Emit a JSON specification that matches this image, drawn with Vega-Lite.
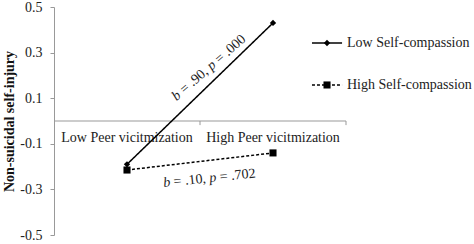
{
  "$schema": "https://vega.github.io/schema/vega-lite/v6.json",
  "width": 292,
  "height": 228,
  "autosize": {"type": "none"},
  "padding": {"left": 54, "top": 7, "right": 128, "bottom": 9},
  "background": "white",
  "config": {"font": "Liberation Serif", "view": {"stroke": null}},
  "datasets": {
    "lines": [
      {"group": "Low Self-compassion", "pv": 0.5, "nssi": -0.19},
      {"group": "Low Self-compassion", "pv": 1.5, "nssi": 0.43},
      {"group": "High Self-compassion", "pv": 0.5, "nssi": -0.215},
      {"group": "High Self-compassion", "pv": 1.5, "nssi": -0.14}
    ],
    "cats": [
      {"label": "Low Peer vicitmization", "pv": 0.5},
      {"label": "High Peer vicitmization", "pv": 1.5}
    ],
    "axisline": [{"from": 0, "to": 2}],
    "ticks": [{"pv": 1}, {"pv": 2}],
    "legend": [
      {"group": "Low Self-compassion", "lx0": 1.767, "lx1": 1.973, "lxm": 1.87, "ltx": 2.0, "ly": 0.342},
      {"group": "High Self-compassion", "lx0": 1.767, "lx1": 1.973, "lxm": 1.87, "ltx": 2.0, "ly": 0.158}
    ],
    "ann": [
      {"id": "a1", "part": "b1", "text": "b", "ax": 1.075, "ay": 0.241},
      {"id": "a1", "part": "r1", "text": "= .90,", "ax": 1.075, "ay": 0.241},
      {"id": "a1", "part": "p1", "text": "p", "ax": 1.075, "ay": 0.241},
      {"id": "a1", "part": "r2", "text": "= .000", "ax": 1.075, "ay": 0.241},
      {"id": "a2", "part": "b1", "text": "b", "ax": 1.082, "ay": -0.25},
      {"id": "a2", "part": "r1", "text": "= .10,", "ax": 1.082, "ay": -0.25},
      {"id": "a2", "part": "p1", "text": "p", "ax": 1.082, "ay": -0.25},
      {"id": "a2", "part": "r2", "text": "= .702", "ax": 1.082, "ay": -0.25}
    ]
  },
  "layer": [
    {
      "data": {"name": "axisline"},
      "mark": {"type": "rule", "color": "#999", "strokeWidth": 1},
      "encoding": {
        "x": {"field": "from", "type": "quantitative", "scale": {"domain": [0, 2], "nice": false, "zero": false}, "axis": null},
        "x2": {"field": "to"},
        "y": {"datum": 0, "type": "quantitative", "scale": {"domain": [-0.5, 0.5], "nice": false, "zero": false},
          "axis": {
            "values": [-0.5, -0.3, -0.1, 0.1, 0.3, 0.5],
            "labelExpr": "replace(format(datum.value, '.1f'), '−', '-')",
            "title": "Non-suicidal self-injury",
            "titleFont": "Liberation Serif",
            "titleFontSize": 14,
            "titleFontWeight": "bold",
            "titleColor": "#111",
            "titlePadding": 3,
            "labelFont": "Liberation Serif",
            "labelFontSize": 14,
            "labelColor": "#222",
            "labelPadding": 8,
            "tickSize": 4,
            "tickColor": "#999",
            "domainColor": "#999",
            "grid": false
          }
        }
      }
    },
    {
      "data": {"name": "ticks"},
      "mark": {"type": "rule", "color": "#999", "strokeWidth": 1},
      "encoding": {
        "x": {"field": "pv", "type": "quantitative"},
        "y": {"datum": 0, "type": "quantitative"},
        "y2": {"datum": -0.018}
      }
    },
    {
      "data": {"name": "cats"},
      "mark": {"type": "text", "fontSize": 14, "color": "#222", "align": "center", "baseline": "middle"},
      "encoding": {
        "x": {"field": "pv", "type": "quantitative"},
        "y": {"datum": -0.075, "type": "quantitative"},
        "text": {"field": "label"}
      }
    },
    {
      "data": {"name": "lines"},
      "mark": {"type": "line", "color": "black", "strokeWidth": 1.5},
      "encoding": {
        "x": {"field": "pv", "type": "quantitative"},
        "y": {"field": "nssi", "type": "quantitative"},
        "detail": {"field": "group"},
        "strokeDash": {"field": "group", "type": "nominal", "scale": {"domain": ["Low Self-compassion", "High Self-compassion"], "range": [[1, 0], [3, 2]]}, "legend": null}
      }
    },
    {
      "data": {"name": "lines"},
      "mark": {"type": "point", "filled": true, "color": "black", "opacity": 1},
      "encoding": {
        "x": {"field": "pv", "type": "quantitative"},
        "y": {"field": "nssi", "type": "quantitative"},
        "shape": {"field": "group", "type": "nominal", "scale": {"domain": ["Low Self-compassion", "High Self-compassion"], "range": ["diamond", "square"]}, "legend": null},
        "size": {"field": "group", "type": "nominal", "scale": {"domain": ["Low Self-compassion", "High Self-compassion"], "range": [40, 50]}, "legend": null}
      }
    },
    {
      "data": {"name": "legend"},
      "mark": {"type": "rule", "color": "black", "strokeWidth": 1.5},
      "encoding": {
        "x": {"field": "lx0", "type": "quantitative"},
        "x2": {"field": "lx1"},
        "y": {"field": "ly", "type": "quantitative"},
        "strokeDash": {"field": "group", "type": "nominal", "legend": null}
      }
    },
    {
      "data": {"name": "legend"},
      "mark": {"type": "point", "filled": true, "color": "black", "opacity": 1},
      "encoding": {
        "x": {"field": "lxm", "type": "quantitative"},
        "y": {"field": "ly", "type": "quantitative"},
        "shape": {"field": "group", "type": "nominal", "legend": null},
        "size": {"field": "group", "type": "nominal", "legend": null}
      }
    },
    {
      "data": {"name": "legend"},
      "mark": {"type": "text", "fontSize": 14, "color": "#222", "align": "left", "baseline": "middle", "dx": 1},
      "encoding": {
        "x": {"field": "ltx", "type": "quantitative"},
        "y": {"field": "ly", "type": "quantitative"},
        "text": {"field": "group"}
      }
    },
    {
      "data": {"name": "ann"},
      "transform": [{"filter": "datum.id === 'a1' && datum.part === 'b1'"}],
      "mark": {"type": "text", "fontSize": 14, "fontStyle": "italic", "color": "#222", "align": "left", "baseline": "middle", "angle": -41, "dx": -49},
      "encoding": {"x": {"field": "ax", "type": "quantitative"}, "y": {"field": "ay", "type": "quantitative"}, "text": {"field": "text"}}
    },
    {
      "data": {"name": "ann"},
      "transform": [{"filter": "datum.id === 'a1' && datum.part === 'r1'"}],
      "mark": {"type": "text", "fontSize": 14, "color": "#222", "align": "left", "baseline": "middle", "angle": -41, "dx": -38.5},
      "encoding": {"x": {"field": "ax", "type": "quantitative"}, "y": {"field": "ay", "type": "quantitative"}, "text": {"field": "text"}}
    },
    {
      "data": {"name": "ann"},
      "transform": [{"filter": "datum.id === 'a1' && datum.part === 'p1'"}],
      "mark": {"type": "text", "fontSize": 14, "fontStyle": "italic", "color": "#222", "align": "left", "baseline": "middle", "angle": -41, "dx": -2.6},
      "encoding": {"x": {"field": "ax", "type": "quantitative"}, "y": {"field": "ay", "type": "quantitative"}, "text": {"field": "text"}}
    },
    {
      "data": {"name": "ann"},
      "transform": [{"filter": "datum.id === 'a1' && datum.part === 'r2'"}],
      "mark": {"type": "text", "fontSize": 14, "color": "#222", "align": "left", "baseline": "middle", "angle": -41, "dx": 7.9},
      "encoding": {"x": {"field": "ax", "type": "quantitative"}, "y": {"field": "ay", "type": "quantitative"}, "text": {"field": "text"}}
    },
    {
      "data": {"name": "ann"},
      "transform": [{"filter": "datum.id === 'a2' && datum.part === 'b1'"}],
      "mark": {"type": "text", "fontSize": 14, "fontStyle": "italic", "color": "#222", "align": "left", "baseline": "middle", "angle": -6, "dx": -49},
      "encoding": {"x": {"field": "ax", "type": "quantitative"}, "y": {"field": "ay", "type": "quantitative"}, "text": {"field": "text"}}
    },
    {
      "data": {"name": "ann"},
      "transform": [{"filter": "datum.id === 'a2' && datum.part === 'r1'"}],
      "mark": {"type": "text", "fontSize": 14, "color": "#222", "align": "left", "baseline": "middle", "angle": -6, "dx": -38.5},
      "encoding": {"x": {"field": "ax", "type": "quantitative"}, "y": {"field": "ay", "type": "quantitative"}, "text": {"field": "text"}}
    },
    {
      "data": {"name": "ann"},
      "transform": [{"filter": "datum.id === 'a2' && datum.part === 'p1'"}],
      "mark": {"type": "text", "fontSize": 14, "fontStyle": "italic", "color": "#222", "align": "left", "baseline": "middle", "angle": -6, "dx": -2.6},
      "encoding": {"x": {"field": "ax", "type": "quantitative"}, "y": {"field": "ay", "type": "quantitative"}, "text": {"field": "text"}}
    },
    {
      "data": {"name": "ann"},
      "transform": [{"filter": "datum.id === 'a2' && datum.part === 'r2'"}],
      "mark": {"type": "text", "fontSize": 14, "color": "#222", "align": "left", "baseline": "middle", "angle": -6, "dx": 7.9},
      "encoding": {"x": {"field": "ax", "type": "quantitative"}, "y": {"field": "ay", "type": "quantitative"}, "text": {"field": "text"}}
    }
  ]
}
